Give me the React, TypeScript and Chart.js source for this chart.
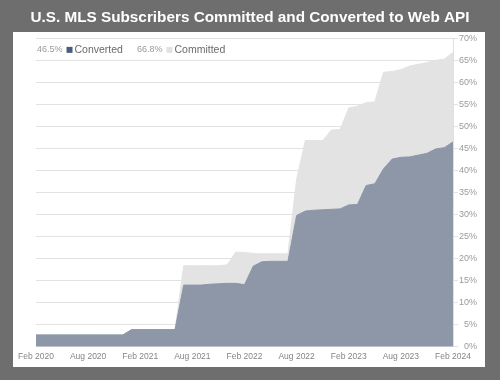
import React, { useEffect, useRef } from "react";
import { Chart, registerables } from "chart.js";

Chart.register(...registerables);

const FONT = "'Liberation Sans', Arial, Helvetica, sans-serif";

const months = [
  "Feb 2020", "Mar 2020", "Apr 2020", "May 2020", "Jun 2020", "Jul 2020",
  "Aug 2020", "Sep 2020", "Oct 2020", "Nov 2020", "Dec 2020", "Jan 2021",
  "Feb 2021", "Mar 2021", "Apr 2021", "May 2021", "Jun 2021", "Jul 2021",
  "Aug 2021", "Sep 2021", "Oct 2021", "Nov 2021", "Dec 2021", "Jan 2022",
  "Feb 2022", "Mar 2022", "Apr 2022", "May 2022", "Jun 2022", "Jul 2022",
  "Aug 2022", "Sep 2022", "Oct 2022", "Nov 2022", "Dec 2022", "Jan 2023",
  "Feb 2023", "Mar 2023", "Apr 2023", "May 2023", "Jun 2023", "Jul 2023",
  "Aug 2023", "Sep 2023", "Oct 2023", "Nov 2023", "Dec 2023", "Jan 2024",
  "Feb 2024",
];

const xTickLabels = [
  "Feb 2020", "Aug 2020", "Feb 2021", "Aug 2021", "Feb 2022",
  "Aug 2022", "Feb 2023", "Aug 2023", "Feb 2024",
];

const converted = [
  2.7, 2.7, 2.7, 2.7, 2.7, 2.7, 2.7, 2.7, 2.7, 2.7, 2.7, 3.9,
  3.9, 3.9, 3.9, 3.9, 3.9, 14.0, 14.0, 14.0, 14.2, 14.3, 14.4, 14.4,
  14.1, 18.3, 19.3, 19.4, 19.4, 19.4, 29.8, 30.8, 31.0, 31.1, 31.2, 31.3,
  32.2, 32.3, 36.6, 37.0, 40.4, 42.6, 43.0, 43.1, 43.5, 43.9, 44.9, 45.2,
  46.5,
];

const committed = [
  2.7, 2.7, 2.7, 2.7, 2.7, 2.7, 2.7, 2.7, 2.7, 2.7, 2.7, 3.9,
  3.9, 3.9, 3.9, 3.9, 3.9, 18.4, 18.4, 18.4, 18.4, 18.4, 18.6, 21.5,
  21.4, 21.2, 21.1, 21.1, 21.1, 21.1, 38.0, 46.8, 46.8, 46.8, 49.2, 49.3,
  54.2, 54.6, 55.4, 55.6, 62.3, 62.5, 62.9, 63.7, 64.1, 64.5, 65.0, 65.3,
  66.8,
];

const legendItems = [
  { value: "46.5%", label: "Converted", swatch: "#4b5b7e" },
  { value: "66.8%", label: "Committed", swatch: "#e2e2e2" },
];

const TITLE = "U.S. MLS Subscribers Committed and Converted to Web API";

export default function App() {
  const ref = useRef<HTMLCanvasElement | null>(null);

  useEffect(() => {
    document.body.style.margin = "0";
    const panelPlugin = {
      id: "panelBg",
      beforeDraw(chart: any) {
        const ctx = chart.ctx;
        ctx.save();
        ctx.fillStyle = "#6e6e6e";
        ctx.fillRect(0, 0, chart.width, chart.height);
        ctx.fillStyle = "#ffffff";
        ctx.fillRect(13, 32, 472, 335);
        ctx.restore();
      },
    };
    const legendPlugin = {
      id: "valueLegend",
      afterDraw(chart: any) {
        const ctx = chart.ctx;
        const area = chart.chartArea;
        const y = area.top + 11.5;
        let x = area.left + 1;
        ctx.save();
        ctx.textBaseline = "middle";
        ctx.textAlign = "left";
        legendItems.forEach((item) => {
          ctx.font = `9px ${FONT}`;
          ctx.fillStyle = "#9a9a9a";
          ctx.fillText(item.value, x, y);
          x += ctx.measureText(item.value).width + 4;
          ctx.fillStyle = item.swatch;
          ctx.fillRect(x, y - 3, 6, 6);
          x += 8;
          ctx.font = `10.5px ${FONT}`;
          ctx.fillStyle = "#6a6a6a";
          ctx.fillText(item.label, x, y);
          x += ctx.measureText(item.label).width + 14;
        });
        ctx.restore();
      },
    };

    const chart = new Chart(ref.current as HTMLCanvasElement, {
      type: "line",
      data: {
        labels: months,
        datasets: [
          {
            label: "Converted",
            data: converted,
            fill: "origin",
            backgroundColor: "#8e97a7",
            borderColor: "#8e97a7",
            borderWidth: 1,
            pointRadius: 0,
            tension: 0,
            yAxisID: "y",
          },
          {
            label: "Committed",
            data: committed,
            fill: "origin",
            backgroundColor: "#e3e3e3",
            borderColor: "#e3e3e3",
            borderWidth: 1,
            pointRadius: 0,
            tension: 0,
            yAxisID: "y",
          },
        ],
      },
      options: {
        animation: false,
        responsive: false,
        layout: { padding: { left: 13, right: 13, bottom: 13, top: 0 } },
        plugins: {
          legend: { display: false },
          tooltip: { enabled: false },
          title: {
            display: true,
            text: TITLE,
            color: "#ffffff",
            font: { family: FONT, size: 15.3, weight: "bold" },
            padding: { top: 9, bottom: 11 },
          },
        },
        scales: {
          x: {
            grid: { display: false, drawTicks: false },
            border: { display: false },
            ticks: {
              autoSkip: false,
              maxRotation: 0,
              padding: 5,
              color: "#858585",
              font: { family: FONT, size: 8.5 },
              callback: (_v: any, i: number) =>
                i % 6 === 0 ? xTickLabels[i / 6] : null,
            },
          },
          yLeft: {
            type: "linear",
            position: "left",
            display: true,
            grid: { display: false, drawTicks: false },
            border: { display: false },
            ticks: { display: false },
            afterFit: (s: any) => {
              s.width = 23;
            },
          },
          yRightPad: {
            type: "linear",
            position: "right",
            display: true,
            weight: 5,
            grid: { display: false, drawTicks: false },
            border: { display: false },
            ticks: { display: false },
            afterFit: (s: any) => {
              s.width = 10;
            },
          },
          y: {
            position: "right",
            weight: 0,
            min: 0,
            max: 70,
            grid: { color: "#e2e2e2", lineWidth: 1, tickLength: 5 },
            border: { display: true, color: "#e0e0e0" },
            ticks: {
              stepSize: 5,
              padding: 1,
              crossAlign: "far",
              color: "#9a9a9a",
              font: { family: FONT, size: 9 },
              callback: (v: any) => `${v}%`,
            },
            afterFit: (s: any) => {
              s.width = 24;
            },
          },
        },
      },
      plugins: [panelPlugin, legendPlugin],
    } as any);
    return () => chart.destroy();
  }, []);

  return (
    <div style={{ position: "absolute", left: 0, top: 0, width: 500, height: 380 }}>
      <canvas ref={ref} width={500} height={380} style={{ display: "block" }} />
    </div>
  );
}
